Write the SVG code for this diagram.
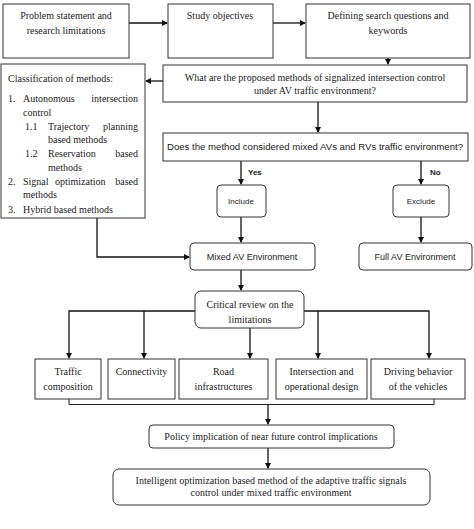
<svg xmlns="http://www.w3.org/2000/svg" width="474" height="529" viewBox="0 0 474 529">
<style>
.box{fill:#fff;stroke:#333;stroke-width:1}
.ser{font-family:"Liberation Serif","DejaVu Serif",serif;font-size:10px;fill:#222}
.san{font-family:"Liberation Sans","DejaVu Sans",sans-serif;fill:#222}
.c{text-anchor:middle}
.e{text-anchor:end}
.ln{fill:none;stroke:#111;stroke-width:1.3}
.ln2{fill:none;stroke:#222;stroke-width:1}
</style>
<defs>
<marker id="ah" markerWidth="6" markerHeight="6" refX="5" refY="3" orient="auto" markerUnits="userSpaceOnUse">
<path d="M0,0 L6,3 L0,6 z" fill="#111"/>
</marker>
</defs>
<rect width="474" height="529" fill="#fff"/>
<g id="connectors">
<line class="ln" x1="129" y1="23" x2="167" y2="23" marker-end="url(#ah)"/>
<line class="ln" x1="273" y1="23" x2="305" y2="23" marker-end="url(#ah)"/>
<line class="ln" x1="388" y1="58" x2="388" y2="64" marker-end="url(#ah)"/>
<line class="ln" x1="163" y1="81" x2="146" y2="81" marker-end="url(#ah)"/>
<line class="ln" x1="318" y1="102" x2="318" y2="132" marker-end="url(#ah)"/>
<line class="ln" x1="241" y1="161" x2="241" y2="184" marker-end="url(#ah)"/>
<line class="ln" x1="421" y1="161" x2="421" y2="184" marker-end="url(#ah)"/>
<line class="ln" x1="241" y1="217" x2="241" y2="242" marker-end="url(#ah)"/>
<line class="ln" x1="421" y1="217" x2="421" y2="242" marker-end="url(#ah)"/>
<polyline class="ln" points="97,218 97,257 189,257" marker-end="url(#ah)"/>
<line class="ln" x1="241" y1="270" x2="241" y2="290" marker-end="url(#ah)"/>
<polyline class="ln" points="195,311 69,311 69,358" marker-end="url(#ah)"/>
<line class="ln" x1="144" y1="311" x2="144" y2="358" marker-end="url(#ah)"/>
<line class="ln" x1="250" y1="328" x2="250" y2="358" marker-end="url(#ah)"/>
<polyline class="ln" points="304,311 429,311 429,358" marker-end="url(#ah)"/>
<line class="ln" x1="318" y1="311" x2="318" y2="358" marker-end="url(#ah)"/>
<polyline class="ln2" points="69,399 69,404.5 434,404.5 434,399"/>
<line class="ln" x1="268" y1="404.5" x2="268" y2="424" marker-end="url(#ah)"/>
<line class="ln" x1="268" y1="448" x2="268" y2="468" marker-end="url(#ah)"/>
<text class="san" x="248" y="175" font-size="8" font-weight="bold">Yes</text>
<text class="san" x="430" y="175" font-size="8" font-weight="bold">No</text>
</g>
<g id="problem">
<rect class="box" x="3" y="4" width="126" height="54"/>
<text class="ser c" x="66" y="19">Problem statement and</text>
<text class="ser c" x="66" y="34">research limitations</text>
</g>
<g id="objectives">
<rect class="box" x="168" y="4" width="105" height="54"/>
<text class="ser c" x="220" y="19">Study objectives</text>
</g>
<g id="defining">
<rect class="box" x="306" y="4" width="164" height="54"/>
<text class="ser c" x="388" y="19">Defining search questions and</text>
<text class="ser c" x="388" y="34">keywords</text>
</g>
<g id="question">
<rect class="box" x="163" y="65" width="304" height="37"/>
<text class="ser c" x="315" y="80.5">What are the proposed methods of signalized intersection control</text>
<text class="ser c" x="315" y="94">under AV traffic environment?</text>
</g>
<g id="classification">
<rect class="box" x="1" y="64" width="144" height="154"/>
<text class="ser" x="8" y="81.5">Classification of methods:</text>
<text class="ser" x="8" y="101.5">1.</text>
<text class="ser" x="23" y="101.5">Autonomous</text>
<text class="ser e" x="138" y="101.5">intersection</text>
<text class="ser" x="23" y="115.5">control</text>
<text class="ser" x="25" y="129.5">1.1</text>
<text class="ser" x="48" y="129.5">Trajectory</text>
<text class="ser e" x="138" y="129.5">planning</text>
<text class="ser" x="48" y="142.5">based methods</text>
<text class="ser" x="25" y="156.5">1.2</text>
<text class="ser" x="48" y="156.5">Reservation</text>
<text class="ser e" x="138" y="156.5">based</text>
<text class="ser" x="48" y="170.5">methods</text>
<text class="ser" x="8" y="185">2.</text>
<text class="ser" x="23" y="185">Signal</text>
<text class="ser" x="55" y="185">optimization</text>
<text class="ser e" x="138" y="185">based</text>
<text class="ser" x="23" y="198">methods</text>
<text class="ser" x="8" y="212.5">3.</text>
<text class="ser" x="23" y="212.5">Hybrid based methods</text>
</g>
<g id="mixedq">
<rect class="box" x="163" y="133" width="305" height="28"/>
<text class="san c" x="315" y="150" font-size="9.6">Does the method considered mixed AVs and RVs traffic environment?</text>
</g>
<g id="include">
<rect class="box" x="217" y="185" width="49" height="32" rx="4"/>
<text class="san c" x="241" y="204" font-size="8">Include</text>
</g>
<g id="exclude">
<rect class="box" x="393" y="185" width="56" height="32" rx="4"/>
<text class="san c" x="421" y="204" font-size="8">Exclude</text>
</g>
<g id="mixedenv">
<rect class="box" x="190" y="243" width="125" height="27" rx="4"/>
<text class="san c" x="252" y="260" font-size="9">Mixed AV Environment</text>
</g>
<g id="fullenv">
<rect class="box" x="359" y="243" width="113" height="27" rx="4"/>
<text class="san c" x="415" y="260" font-size="9">Full AV Environment</text>
</g>
<g id="critical">
<rect class="box" x="195" y="291" width="109" height="37" rx="6"/>
<text class="ser c" x="250" y="307.5">Critical review on the</text>
<text class="ser c" x="250" y="322.5">limitations</text>
</g>
<g id="traffic">
<rect class="box" x="35" y="359" width="66" height="40"/>
<text class="ser c" x="68" y="374.5">Traffic</text>
<text class="ser c" x="68" y="389.5">composition</text>
</g>
<g id="connectivity">
<rect class="box" x="108" y="359" width="67" height="40"/>
<text class="ser c" x="141.5" y="374.5">Connectivity</text>
</g>
<g id="road">
<rect class="box" x="179" y="359" width="89" height="40"/>
<text class="ser c" x="223.5" y="374.5">Road</text>
<text class="ser c" x="223.5" y="389.5">infrastructures</text>
</g>
<g id="intersection">
<rect class="box" x="276" y="359" width="91" height="40"/>
<text class="ser c" x="321.5" y="374.5">Intersection and</text>
<text class="ser c" x="321.5" y="389.5">operational design</text>
</g>
<g id="driving">
<rect class="box" x="371" y="359" width="94" height="40"/>
<text class="ser c" x="418" y="374.5">Driving behavior</text>
<text class="ser c" x="418" y="389.5">of the vehicles</text>
</g>
<g id="policy">
<rect class="box" x="149" y="425" width="245" height="23" rx="4"/>
<text class="ser c" x="271" y="440" font-size="9.5">Policy implication of near future control implications</text>
</g>
<g id="intelligent">
<rect class="box" x="113" y="469" width="317" height="36" rx="6"/>
<text class="ser c" x="271" y="484" font-size="9.3">Intelligent optimization based method of the adaptive traffic signals</text>
<text class="ser c" x="271" y="495.5" font-size="9.3">control under mixed traffic environment</text>
</g>
</svg>
